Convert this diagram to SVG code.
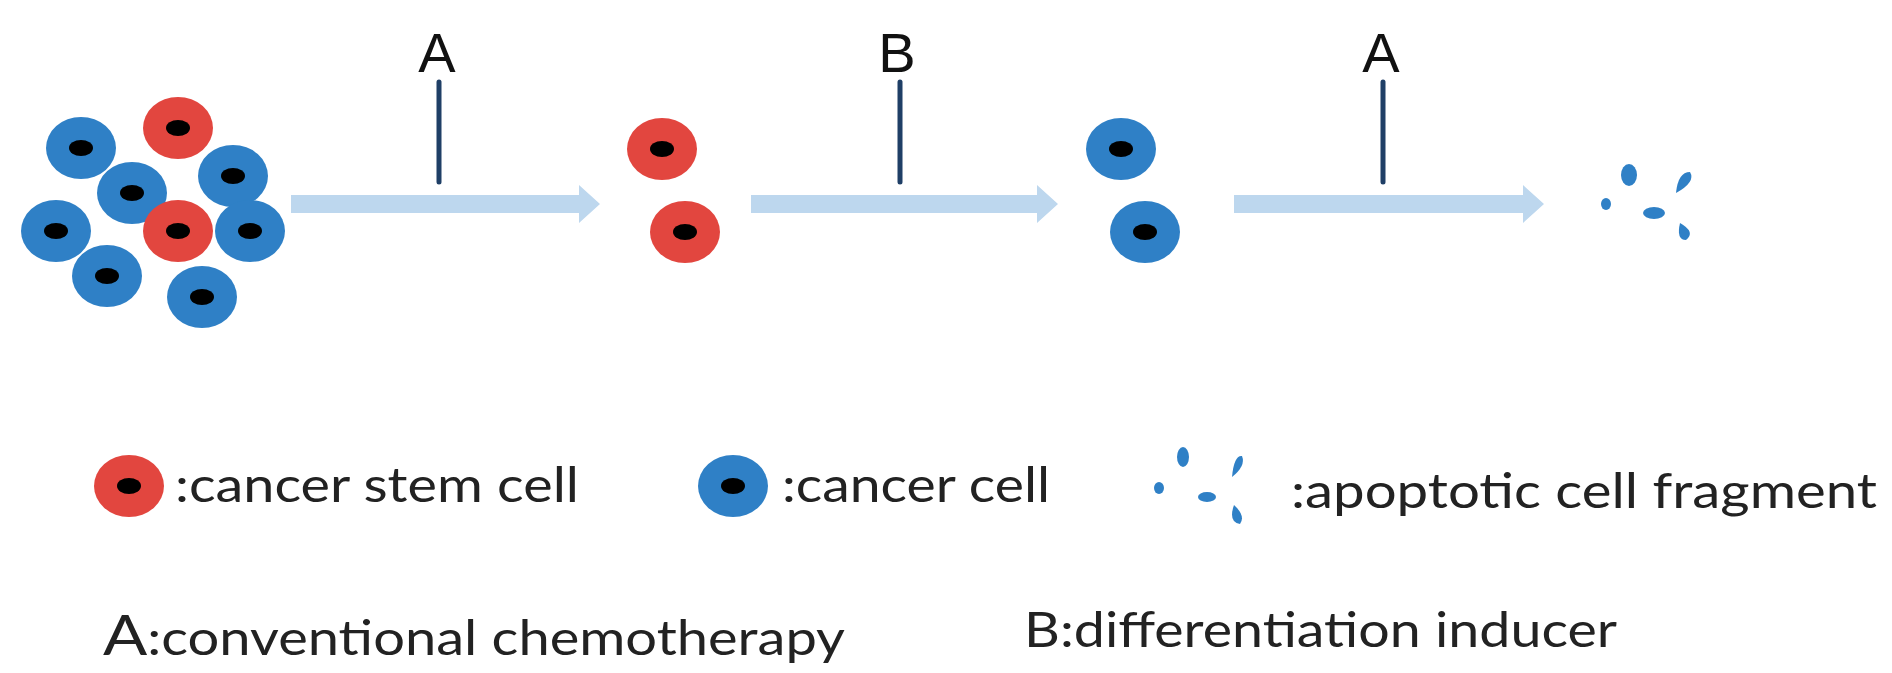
<svg xmlns="http://www.w3.org/2000/svg" width="1892" height="673" viewBox="0 0 1892 673">
<style>
.b{fill:#2F80C6}.r{fill:#E2463F}.n{fill:#000}
.lbl{font-family:"Liberation Sans",Arial,sans-serif;font-size:56px;fill:#111;text-anchor:middle}
.t{font-family:Lato,"Open Sans",sans-serif;font-size:48px;fill:#222}
.fat{fill:#BDD7EE}
.tl{stroke:#1F3F66;stroke-width:5;stroke-linecap:round}
</style>
<defs>
<g id="bc"><ellipse rx="35" ry="31" class="b"/><ellipse rx="12" ry="8" class="n"/></g>
<g id="rc"><ellipse rx="35" ry="31" class="r"/><ellipse rx="12" ry="8" class="n"/></g>
</defs>
<rect width="1892" height="673" fill="#fff"/>
<g id="connectors">
<polygon class="fat" points="291,195 579,195 579,185 600,204 579,223 579,213 291,213"/>
<polygon class="fat" points="751,195 1037,195 1037,185 1058,204 1037,223 1037,213 751,213"/>
<polygon class="fat" points="1234,195 1523,195 1523,185 1544,204 1523,223 1523,213 1234,213"/>
<line class="tl" x1="439" y1="82" x2="439" y2="182"/>
<line class="tl" x1="900" y1="82" x2="900" y2="182"/>
<line class="tl" x1="1383" y1="82" x2="1383" y2="182"/>
<text class="lbl" x="437" y="72">A</text>
<text class="lbl" x="897" y="72">B</text>
<text class="lbl" x="1381" y="72">A</text>
</g>
<g id="tumor">
<use href="#rc" x="178" y="128"/>
<use href="#bc" x="81" y="148"/>
<use href="#bc" x="233" y="176"/>
<use href="#bc" x="132" y="193"/>
<use href="#bc" x="56" y="231"/>
<use href="#rc" x="178" y="231"/>
<use href="#bc" x="250" y="231"/>
<use href="#bc" x="107" y="276"/>
<use href="#bc" x="202" y="297"/>
</g>
<g id="stem-cells">
<use href="#rc" x="662" y="149"/>
<use href="#rc" x="685" y="232"/>
</g>
<g id="cancer-cells">
<use href="#bc" x="1121" y="149"/>
<use href="#bc" x="1145" y="232"/>
</g>
<g id="fragments" class="b">
<ellipse cx="1629" cy="175" rx="8" ry="11"/>
<path d="M1676,193 Q1678,172 1690,172 Q1696,182 1676,193Z"/>
<ellipse cx="1606" cy="204" rx="5" ry="6"/>
<ellipse cx="1654" cy="213" rx="11" ry="6"/>
<path d="M1680,223 Q1696,232 1686,240 Q1676,240 1680,223Z"/>
</g>
<g id="legend">
<use href="#rc" x="129" y="486"/>
<text class="t" x="175" y="502" textLength="404" lengthAdjust="spacingAndGlyphs">:cancer stem cell</text>
<use href="#bc" x="733" y="486"/>
<text class="t" x="782" y="502" textLength="268" lengthAdjust="spacingAndGlyphs">:cancer cell</text>
<g class="b">
<ellipse cx="1183" cy="457" rx="6" ry="10"/>
<path d="M1232,477 Q1234,455 1242,456 Q1246,466 1232,477Z"/>
<ellipse cx="1159" cy="488" rx="5" ry="6"/>
<ellipse cx="1207" cy="497" rx="9" ry="5"/>
<path d="M1234,505 Q1246,516 1240,524 Q1228,522 1234,505Z"/>
</g>
<text class="t" x="1291" y="508" textLength="586" lengthAdjust="spacingAndGlyphs">:apoptotic cell fragment</text>
<text class="t" x="103" y="655" textLength="742" lengthAdjust="spacingAndGlyphs"><tspan font-size="56">A</tspan>:conventional chemotherapy</text>
<text class="t" x="1024" y="647" textLength="593" lengthAdjust="spacingAndGlyphs">B:differentiation inducer</text>
</g>
</svg>
